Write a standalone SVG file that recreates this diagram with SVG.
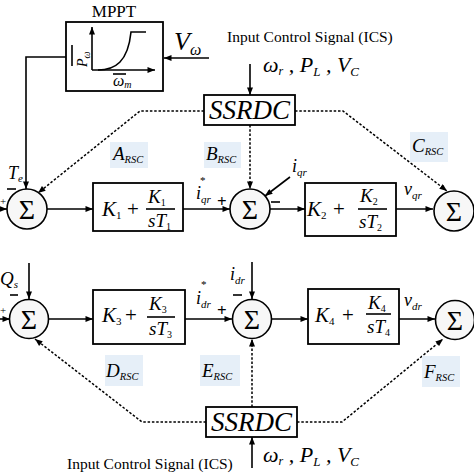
<svg xmlns="http://www.w3.org/2000/svg" width="474" height="474" viewBox="0 0 474 474">
<defs>
<marker id="ah" viewBox="0 0 10 8" refX="10" refY="4" markerWidth="8" markerHeight="6" markerUnits="userSpaceOnUse" orient="auto"><path d="M0,0 L10,4 L0,8 z" fill="#000"/></marker>
<style>
.t{font-family:"Liberation Serif","Times New Roman",serif;fill:#000}
.i{font-style:italic}
.ln{fill:none;stroke:#000;stroke-width:1.6}
.da{fill:none;stroke:#000;stroke-width:1.5;stroke-dasharray:2.5,1.8}
.bx{fill:#fff;stroke:#000;stroke-width:1.8}
.sm{fill:#f7f7f7;stroke:#000;stroke-width:1.6}
.lb{fill:#e6eff8}
.sg{font-size:28px;text-anchor:middle}
</style>
</defs>
<rect width="474" height="474" fill="#fff"/>

<g id="connectors">
<path class="ln" d="M66,57 H26 V189" marker-end="url(#ah)"/>
<path class="ln" d="M209,58 H164" marker-end="url(#ah)"/>
<path class="ln" d="M0,209 H7" marker-end="url(#ah)"/>
<path class="ln" d="M47,209 H93" marker-end="url(#ah)"/>
<path class="ln" d="M183,209 H230" marker-end="url(#ah)"/>
<path class="ln" d="M270,209 H305" marker-end="url(#ah)"/>
<path class="ln" d="M396,209 H433" marker-end="url(#ah)"/>
<path class="ln" d="M473,209 H474"/>
<path class="ln" d="M250,64 V95" marker-end="url(#ah)"/>
<path class="da" d="M250,125 V189" marker-end="url(#ah)"/>
<path class="da" d="M204,111 H140 L38,193" marker-end="url(#ah)"/>
<path class="da" d="M295,111 H343 L447,191" marker-end="url(#ah)"/>
<path class="ln" d="M290,177 L265,196" marker-end="url(#ah)"/>

<path class="ln" d="M29,263 V299" marker-end="url(#ah)"/>
<path class="ln" d="M0,319 H10" marker-end="url(#ah)"/>
<path class="ln" d="M49,319 H93" marker-end="url(#ah)"/>
<path class="ln" d="M185,319 H232" marker-end="url(#ah)"/>
<path class="ln" d="M252,262 V299" marker-end="url(#ah)"/>
<path class="ln" d="M272,319 H308" marker-end="url(#ah)"/>
<path class="ln" d="M399,319 H435" marker-end="url(#ah)"/>
<path class="da" d="M252,407 V339" marker-end="url(#ah)"/>
<path class="da" d="M206,422 H142 L35,339" marker-end="url(#ah)"/>
<path class="da" d="M297,422 H342 L443,339" marker-end="url(#ah)"/>
<path class="ln" d="M252,468 V437" marker-end="url(#ah)"/>
</g>

<g id="mppt">
<text class="t" x="114" y="17" font-size="17" text-anchor="middle">MPPT</text>
<rect class="bx" x="66" y="22" width="97" height="69"/>
<path class="ln" d="M92,70 V27" marker-end="url(#ah)"/>
<path class="ln" d="M92,70 H155" marker-end="url(#ah)"/>
<path class="ln" d="M98,70 C115,70 128,62 131,32 H146" stroke-width="1.3"/>
<path class="ln" d="M72,45 V66" stroke-width="1.2"/>
<text class="t i" transform="translate(87,67) rotate(-90)" font-size="14">P<tspan font-size="10" dy="3">ω</tspan></text>
<path class="ln" d="M113,74 H126" stroke-width="1.2"/>
<text class="t i" x="113" y="86" font-size="16">ω<tspan font-size="10" dy="2">m</tspan></text>
<text class="t i" x="174" y="50" font-size="26">V<tspan font-size="16" dy="5">ω</tspan></text>
</g>

<g id="ics-top">
<text class="t" x="227" y="42" font-size="15.5">Input Control Signal (ICS)</text>
<text class="t i" x="263" y="72" font-size="22">ω<tspan font-size="12" dy="3">r</tspan><tspan dy="-3"> , P</tspan><tspan font-size="13" dy="4">L</tspan><tspan dy="-4"> , V</tspan><tspan font-size="13" dy="4">C</tspan></text>
</g>

<g id="ssrdc-top">
<rect class="bx" x="204" y="95" width="91" height="30"/>
<text class="t i" x="249.5" y="119" font-size="27" text-anchor="middle">SSRDC</text>
</g>

<g id="ssrdc-bottom">
<rect class="bx" x="206" y="407" width="91" height="30"/>
<text class="t i" x="251.5" y="431" font-size="27" text-anchor="middle">SSRDC</text>
</g>

<g id="ics-bottom">
<text class="t" x="67" y="469" font-size="15.5">Input Control Signal (ICS)</text>
<text class="t i" x="263" y="462" font-size="22">ω<tspan font-size="12" dy="3">r</tspan><tspan dy="-3"> , P</tspan><tspan font-size="13" dy="4">L</tspan><tspan dy="-4"> , V</tspan><tspan font-size="13" dy="4">C</tspan></text>
</g>

<g id="sum1">
<circle class="sm" cx="27" cy="209" r="20"/>
<text class="t sg" x="27" y="219">Σ</text>
<text class="t i" x="8" y="179" font-size="18">T<tspan font-size="11" dy="3">e</tspan></text>
<path class="ln" d="M7,189 H16"/>
<text class="t" x="0" y="205" font-size="11">+</text>
</g>

<g id="k1">
<rect class="bx" x="93" y="183" width="90" height="48"/>
<text class="t i" x="102" y="216" font-size="21">K<tspan font-size="11" dy="3" font-style="normal">1</tspan></text>
<text class="t" x="127" y="216" font-size="21">+</text>
<text class="t i" x="148" y="203" font-size="19">K<tspan font-size="10" dy="3" font-style="normal">1</tspan></text>
<path class="ln" d="M146,209 H175" stroke-width="1"/>
<text class="t i" x="148" y="227" font-size="19">sT<tspan font-size="10" dy="3" font-style="normal">1</tspan></text>
</g>

<g id="lab-iqr-star">
<text class="t i" x="196" y="199" font-size="18">i<tspan font-size="11" dy="4">qr</tspan></text>
<text class="t" x="200" y="184" font-size="11">*</text>
<text class="t" x="217" y="207" font-size="17" font-weight="bold">+</text>
</g>

<g id="sum2">
<circle class="sm" cx="250" cy="209" r="20"/>
<text class="t sg" x="250" y="219">Σ</text>
<text class="t i" x="292" y="172" font-size="18">i<tspan font-size="11" dy="4">qr</tspan></text>
<path class="ln" d="M271,202 H280" stroke-width="1.8"/>
</g>

<g id="k2">
<rect class="bx" x="305" y="183" width="91" height="53"/>
<text class="t i" x="307" y="216" font-size="21">K<tspan font-size="11" dy="3" font-style="normal">2</tspan></text>
<text class="t" x="333" y="216" font-size="21">+</text>
<text class="t i" x="360" y="202" font-size="19">K<tspan font-size="10" dy="3" font-style="normal">2</tspan></text>
<path class="ln" d="M358,209 H387" stroke-width="1"/>
<text class="t i" x="359" y="228" font-size="19">sT<tspan font-size="10" dy="3" font-style="normal">2</tspan></text>
</g>

<g id="lab-vqr">
<text class="t i" x="404" y="195" font-size="18">v<tspan font-size="11" dy="4">qr</tspan></text>
</g>

<g id="sum3">
<circle class="sm" cx="454" cy="211" r="20"/>
<text class="t sg" x="454" y="221">Σ</text>
</g>

<g id="sum4">
<circle class="sm" cx="29" cy="319" r="19.5"/>
<text class="t sg" x="29" y="329">Σ</text>
<text class="t i" x="0" y="285" font-size="19">Q<tspan font-size="11" dy="3">s</tspan></text>
<path class="ln" d="M10,295 H18"/>
<text class="t" x="0" y="314" font-size="11">+</text>
</g>

<g id="k3">
<rect class="bx" x="93" y="290" width="92" height="54"/>
<text class="t i" x="102" y="322" font-size="21">K<tspan font-size="11" dy="3" font-style="normal">3</tspan></text>
<text class="t" x="125" y="322" font-size="21">+</text>
<text class="t i" x="149" y="310" font-size="19">K<tspan font-size="10" dy="3" font-style="normal">3</tspan></text>
<path class="ln" d="M147,317 H175" stroke-width="1"/>
<text class="t i" x="149" y="335" font-size="19">sT<tspan font-size="10" dy="3" font-style="normal">3</tspan></text>
</g>

<g id="lab-idr-star">
<text class="t i" x="196" y="304" font-size="18">i<tspan font-size="11" dy="4">dr</tspan></text>
<text class="t" x="201" y="288" font-size="11">*</text>
<text class="t" x="217" y="316" font-size="17" font-weight="bold">+</text>
</g>

<g id="sum5">
<circle class="sm" cx="252" cy="319" r="19.5"/>
<text class="t sg" x="252" y="329">Σ</text>
<text class="t i" x="230" y="280" font-size="18">i<tspan font-size="11" dy="4">dr</tspan></text>
<path class="ln" d="M233,295 H242"/>
</g>

<g id="k4">
<rect class="bx" x="308" y="289" width="91" height="55"/>
<text class="t i" x="315" y="322" font-size="21">K<tspan font-size="11" dy="3" font-style="normal">4</tspan></text>
<text class="t" x="342" y="322" font-size="21">+</text>
<text class="t i" x="368" y="309" font-size="19">K<tspan font-size="10" dy="3" font-style="normal">4</tspan></text>
<path class="ln" d="M366,314 H391" stroke-width="1"/>
<text class="t i" x="367" y="333" font-size="19">sT<tspan font-size="10" dy="3" font-style="normal">4</tspan></text>
</g>

<g id="lab-vdr">
<text class="t i" x="404" y="306" font-size="18">v<tspan font-size="11" dy="4">dr</tspan></text>
</g>

<g id="sum6">
<circle class="sm" cx="455" cy="320" r="19.5"/>
<text class="t sg" x="455" y="330">Σ</text>
</g>

<g id="labels">
<rect class="lb" x="110" y="142" width="38" height="26"/>
<text class="t i" x="113" y="160" font-size="19">A<tspan font-size="10.5" dy="3">RSC</tspan></text>
<rect class="lb" x="204" y="142" width="37" height="26"/>
<text class="t i" x="206" y="160" font-size="19">B<tspan font-size="10.5" dy="3">RSC</tspan></text>
<rect class="lb" x="410" y="132" width="38" height="30"/>
<text class="t i" x="412" y="152" font-size="19">C<tspan font-size="10.5" dy="3">RSC</tspan></text>
<rect class="lb" x="105" y="355" width="38" height="31"/>
<text class="t i" x="106" y="377" font-size="19">D<tspan font-size="10.5" dy="3">RSC</tspan></text>
<rect class="lb" x="200" y="355" width="40" height="31"/>
<text class="t i" x="202" y="377" font-size="19">E<tspan font-size="10.5" dy="3">RSC</tspan></text>
<rect class="lb" x="422" y="356" width="38" height="31"/>
<text class="t i" x="424" y="378" font-size="19">F<tspan font-size="10.5" dy="3">RSC</tspan></text>
</g>
</svg>
